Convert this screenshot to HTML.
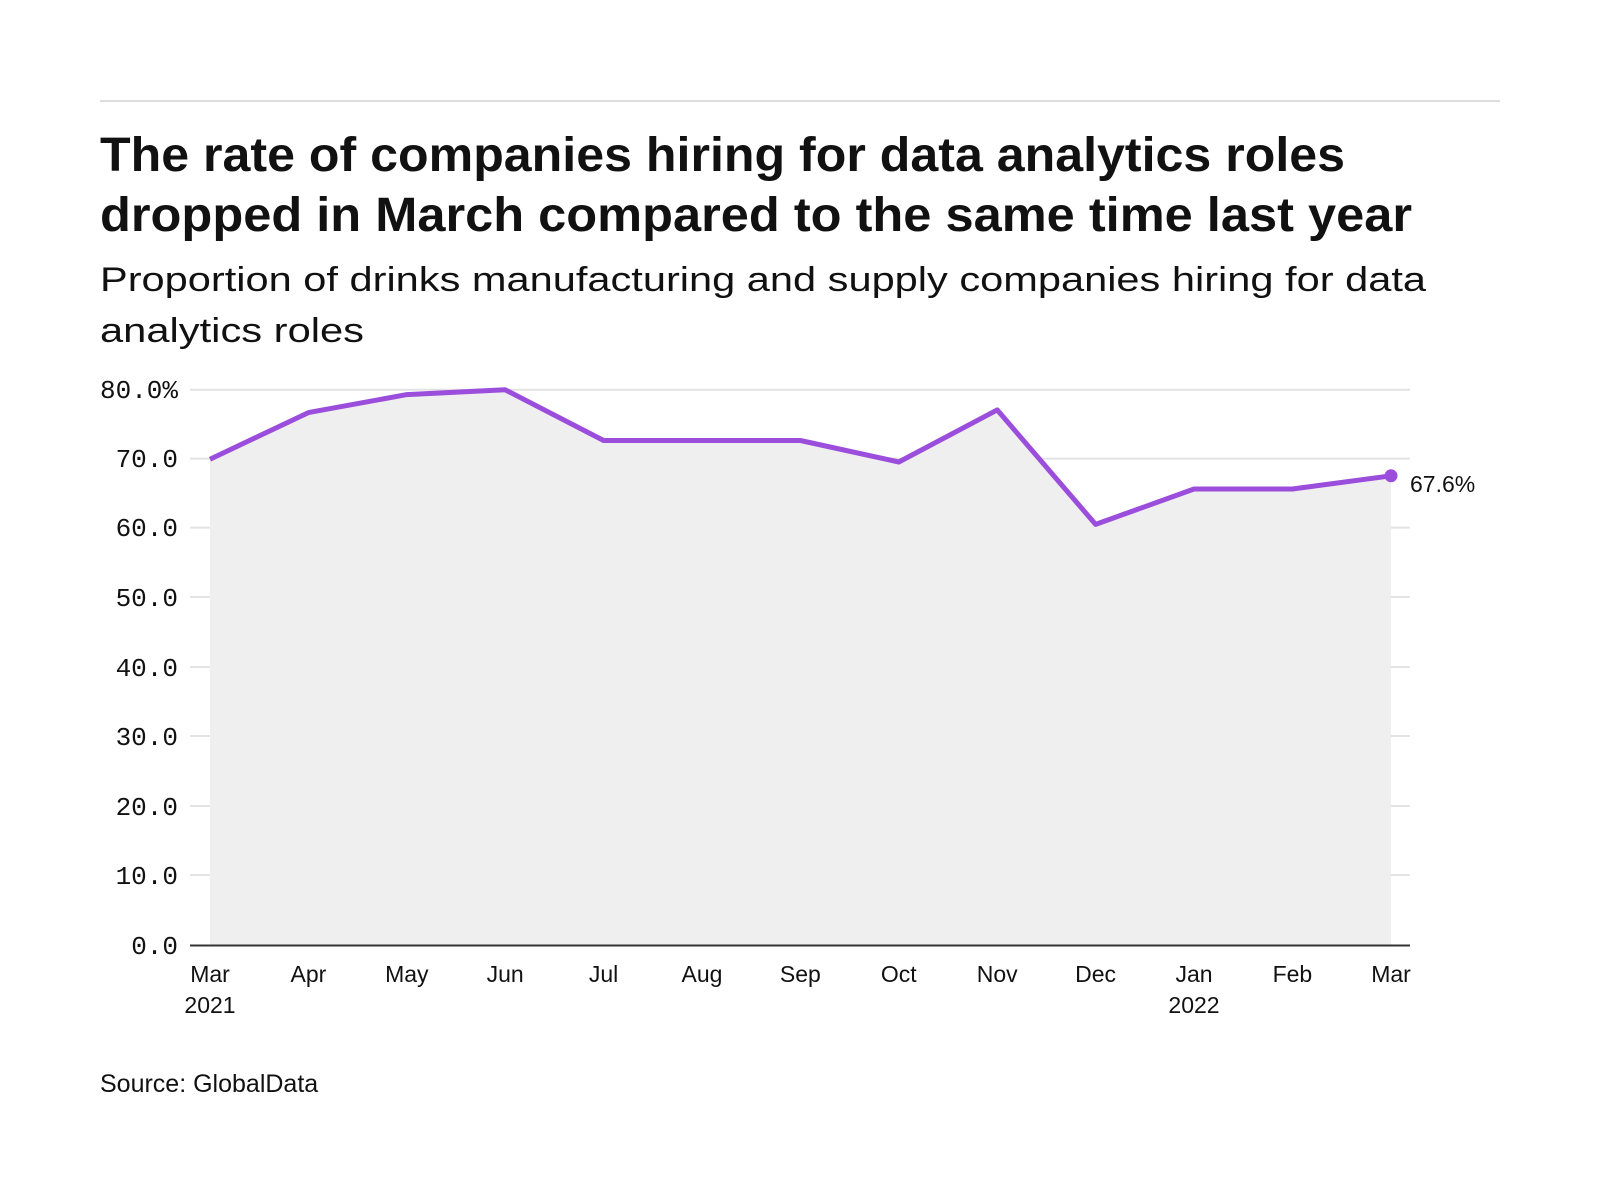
<!DOCTYPE html>
<html><head><meta charset="utf-8"><style>html,body{margin:0;padding:0;background:#fff}svg{display:block}</style></head>
<body>
<svg width="1600" height="1200" viewBox="0 0 1600 1200" xmlns="http://www.w3.org/2000/svg">
<line x1="100" y1="101" x2="1500" y2="101" stroke="#ddd" stroke-width="2"/>
<g font-family="Liberation Sans, sans-serif" fill="#111">
<text x="100" y="171" font-size="48" font-weight="bold" textLength="1245" lengthAdjust="spacingAndGlyphs">The rate of companies hiring for data analytics roles</text>
<text x="100" y="231" font-size="48" font-weight="bold" textLength="1312" lengthAdjust="spacingAndGlyphs">dropped in March compared to the same time last year</text>
<text x="100" y="291" font-size="34" textLength="1326" lengthAdjust="spacingAndGlyphs">Proportion of drinks manufacturing and supply companies hiring for data</text>
<text x="100" y="342" font-size="34" textLength="264" lengthAdjust="spacingAndGlyphs">analytics roles</text>
<text x="100" y="1092" font-size="25">Source: GlobalData</text>
</g>
<g stroke="#e3e3e3" stroke-width="2">
<line x1="190" x2="1410" y1="389.8" y2="389.8"/><line x1="190" x2="1410" y1="458.6" y2="458.6"/><line x1="190" x2="1410" y1="527.6" y2="527.6"/><line x1="190" x2="1410" y1="597" y2="597"/><line x1="190" x2="1410" y1="667" y2="667"/><line x1="190" x2="1410" y1="736" y2="736"/><line x1="190" x2="1410" y1="806" y2="806"/><line x1="190" x2="1410" y1="875" y2="875"/>
</g>
<polygon fill="#efefef" points="210,459.2 308.4,412.6 406.8,394.6 505.2,389.8 603.6,440.5 702,440.5 800.4,440.5 898.8,462 997.2,409.9 1095.6,524.4 1194,489 1292.4,489 1391,475.8 1391,945 210,945"/>
<line x1="190" x2="1410" y1="945.5" y2="945.5" stroke="#333" stroke-width="2"/>
<polyline fill="none" stroke="#9b4ddb" stroke-width="5" stroke-linejoin="round" points="210,459.2 308.4,412.6 406.8,394.6 505.2,389.8 603.6,440.5 702,440.5 800.4,440.5 898.8,462 997.2,409.9 1095.6,524.4 1194,489 1292.4,489 1391,475.8"/>
<circle cx="1391" cy="475.8" r="6.5" fill="#9b4ddb"/>
<text x="1410" y="492" font-family="Liberation Sans, sans-serif" font-size="23" fill="#111">67.6%</text>
<g font-family="Liberation Mono, monospace" font-size="26" fill="#111" text-anchor="end">
<text x="178" y="398">80.0%</text><text x="178" y="467">70.0</text><text x="178" y="536">60.0</text><text x="178" y="606">50.0</text><text x="178" y="676">40.0</text><text x="178" y="745">30.0</text><text x="178" y="815">20.0</text><text x="178" y="884">10.0</text><text x="178" y="954">0.0</text>
</g>
<g font-family="Liberation Sans, sans-serif" font-size="23" fill="#111" text-anchor="middle">
<text x="210" y="982">Mar</text><text x="210" y="1013">2021</text>
<text x="308.4" y="982">Apr</text><text x="406.8" y="982">May</text><text x="505.2" y="982">Jun</text><text x="603.6" y="982">Jul</text><text x="702" y="982">Aug</text><text x="800.4" y="982">Sep</text><text x="898.8" y="982">Oct</text><text x="997.2" y="982">Nov</text><text x="1095.6" y="982">Dec</text><text x="1194" y="982">Jan</text><text x="1194" y="1013">2022</text><text x="1292.4" y="982">Feb</text><text x="1391" y="982">Mar</text>
</g>
</svg>
</body></html>
